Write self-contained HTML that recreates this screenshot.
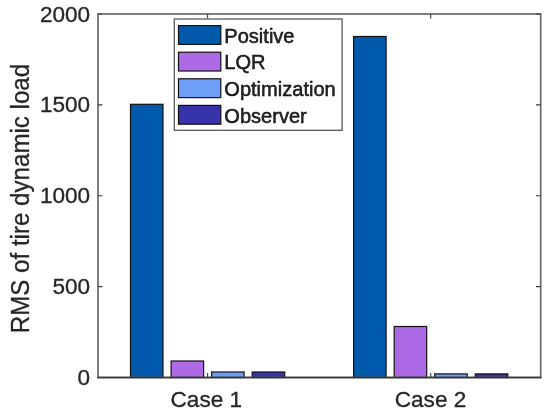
<!DOCTYPE html>
<html>
<head>
<meta charset="utf-8">
<title>RMS of tire dynamic load</title>
<style>
html,body{margin:0;padding:0;background:#fff;}
body{width:550px;height:414px;overflow:hidden;}
svg{display:block;}
text{font-family:"Liberation Sans",Arial,Helvetica,sans-serif;fill:#262626;}
.tick{font-size:21.3px;stroke:#262626;stroke-width:0.3px;}
.leg{font-size:19.3px;fill:#000;stroke:#000;stroke-width:0.45px;}
.yl{font-size:25.8px;stroke:#262626;stroke-width:0.3px;}
.ax{stroke:#6a6a6a;stroke-width:1.7;fill:none;}
.tk{stroke:#3a3a3a;stroke-width:1.1;fill:none;}
.bar{stroke:#111;stroke-width:1.2;}
</style>
</head>
<body>
<svg width="550" height="414" viewBox="0 0 550 414">
<rect x="0" y="0" width="550" height="414" fill="#ffffff"/>

<!-- bars case 1 -->
<rect class="bar" x="130.5" y="104.3" width="32.5" height="273.2" fill="#0059ab"/>
<rect class="bar" x="171.1" y="361" width="32.5" height="16.5" fill="#ad6ae6"/>
<rect class="bar" x="211.6" y="372" width="32.5" height="5.5" fill="#6e9ff8"/>
<rect class="bar" x="252.2" y="372" width="32.5" height="5.5" fill="#3733ab"/>
<!-- bars case 2 -->
<rect class="bar" x="353.6" y="36.5" width="32.5" height="341" fill="#0059ab"/>
<rect class="bar" x="394.2" y="326.5" width="32.5" height="51" fill="#ad6ae6"/>
<rect class="bar" x="434.7" y="373.9" width="32.5" height="3.6" fill="#6e9ff8"/>
<rect class="bar" x="475.3" y="373.9" width="32.5" height="3.6" fill="#3733ab"/>

<!-- axes box -->
<rect class="ax" x="98" y="14" width="442.7" height="363.5"/>
<path d="M97.2 377.5H541.5" stroke="#333" stroke-width="1.5" fill="none"/>
<!-- ticks -->
<g class="tk">
<path d="M98 14h4.5M98 377.5h4.5M540.5 14h-4.5M540.5 377.5h-4.5M98 104.9h4.5M98 195.75h4.5M98 286.6h4.5M540.5 104.9h-4.5M540.5 195.75h-4.5M540.5 286.6h-4.5"/>
<path d="M207.6 14v4.5M430.7 14v4.5M207.6 377.5v-4.5M430.7 377.5v-4.5"/>
</g>

<!-- y tick labels -->
<g class="tick" text-anchor="end">
<text transform="translate(90.1,21.5) scale(1.06,1)">2000</text>
<text transform="translate(90.1,112.3) scale(1.06,1)">1500</text>
<text transform="translate(90.1,203.2) scale(1.06,1)">1000</text>
<text transform="translate(90.1,294.0) scale(1.06,1)">500</text>
<text transform="translate(90.1,384.9) scale(1.06,1)">0</text>
</g>
<!-- x tick labels -->
<g class="tick" text-anchor="middle">
<text transform="translate(206.3,407) scale(1.06,1)">Case 1</text>
<text transform="translate(430.5,407) scale(1.06,1)">Case 2</text>
</g>
<!-- y label -->
<text class="yl" text-anchor="middle" transform="translate(28.8,198.5) rotate(-90) scale(0.935,1)">RMS of tire dynamic load</text>

<!-- legend -->
<rect x="174.3" y="19" width="167.8" height="111.3" fill="#fff" stroke="#5a5a5a" stroke-width="1.3"/>
<rect class="bar" x="178.5" y="25.6" width="42.3" height="18.8" fill="#0059ab"/>
<rect class="bar" x="178.5" y="52.2" width="42.3" height="18.8" fill="#ad6ae6"/>
<rect class="bar" x="178.5" y="78.8" width="42.3" height="18.8" fill="#6e9ff8"/>
<rect class="bar" x="178.5" y="105.4" width="42.3" height="18.8" fill="#3733ab"/>
<g class="leg">
<text transform="translate(224.3,42.9) scale(1.04,1)">Positive</text>
<text transform="translate(224.3,69.4) scale(1.04,1)">LQR</text>
<text transform="translate(224.3,96.3) scale(1.04,1)">Optimization</text>
<text transform="translate(224.3,122.9) scale(1.04,1)">Observer</text>
</g>
</svg>
</body>
</html>
